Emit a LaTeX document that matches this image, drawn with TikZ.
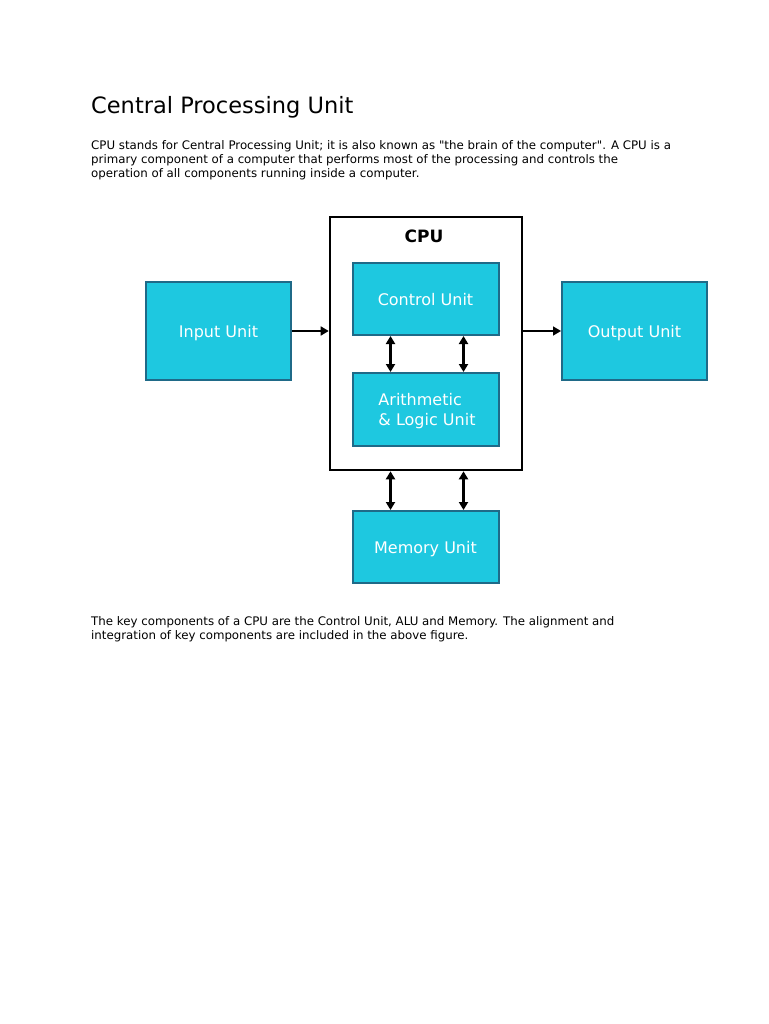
\documentclass[tikz,border=0pt]{standalone}
\usepackage{fontspec}
\setmainfont{DejaVu Sans}[Ligatures=TeXOff]
\usetikzlibrary{
  arrows.meta,
  positioning,
}
\definecolor{unitfill}{HTML}{1EC8E0}
\definecolor{unitline}{HTML}{1F6A88}
\tikzset{
  >={Triangle[length=8pt,width=9pt]},
  unit/.style={rectangle,draw=unitline,line width=2pt,fill=unitfill,text=white,text depth=0pt,
    font=\fontsize{16}{20}\selectfont,minimum width=146,minimum height=72},
  flow/.style={->,line width=1.6pt},
  dbl/.style={<->,line width=2.6pt},
}

\begin{document}
\begin{tikzpicture}[x=1pt,y=-1pt]
        \useasboundingbox[fill=white] (0,0) rectangle (768,1024);

        % text above and below the figure
        \node[anchor=base west,inner sep=0,font=\fontsize{22.5}{27}\selectfont] (title) at (91,114) {Central Processing Unit};
        \node[anchor=north west,inner sep=0,align=left,font=\fontsize{11.8}{14}\selectfont] (intro) at (91,140)
          {CPU stands for Central Processing Unit; it is also known as "the brain of the computer". A CPU is a\\
           primary component of a computer that performs most of the processing and controls the\\
           operation of all components running inside a computer.};
        \node[anchor=north west,inner sep=0,align=left,font=\fontsize{11.8}{14}\selectfont] (outro) at (91,616)
          {The key components of a CPU are the Control Unit, ALU and Memory. The alignment and\\
           integration of key components are included in the above figure.};

        % the CPU and its units
        \node[rectangle,draw,line width=2.6pt,minimum width=192,minimum height=253] (cpu) at (426,343.5) {};
        \node[font=\fontsize{17}{20}\selectfont\bfseries] (cpulabel) at (424,236) {CPU};
        \node[unit] (ctrl) at (425.5,299) {Control Unit};
        \node[unit,minimum height=73,align=left] (alu) at (425.5,409.5) {\hspace*{3pt}Arithmetic\\ \hspace*{3pt}\& Logic Unit};
        \node[unit,minimum width=145,minimum height=98] (inp) at (218.5,331) {Input Unit};
        \node[unit,minimum width=145,minimum height=98] (outp) at (634.5,331) {Output Unit};
        \node[unit] (mem) at (425.5,547) {Memory Unit};

        \draw[flow] (inp.east) -- (inp.east -| cpu.west);
        \draw[flow] (outp.west -| cpu.east) -- (outp.west);
        \draw[dbl] ([xshift=-35pt]ctrl.south) -- ([xshift=-35pt]alu.north);
        \draw[dbl] ([xshift=38pt]ctrl.south) -- ([xshift=38pt]alu.north);
        \draw[dbl] ([xshift=-35pt]mem.north |- cpu.south) -- ([xshift=-35pt]mem.north);
        \draw[dbl] ([xshift=38pt]mem.north |- cpu.south) -- ([xshift=38pt]mem.north);

\end{tikzpicture}
\end{document}
